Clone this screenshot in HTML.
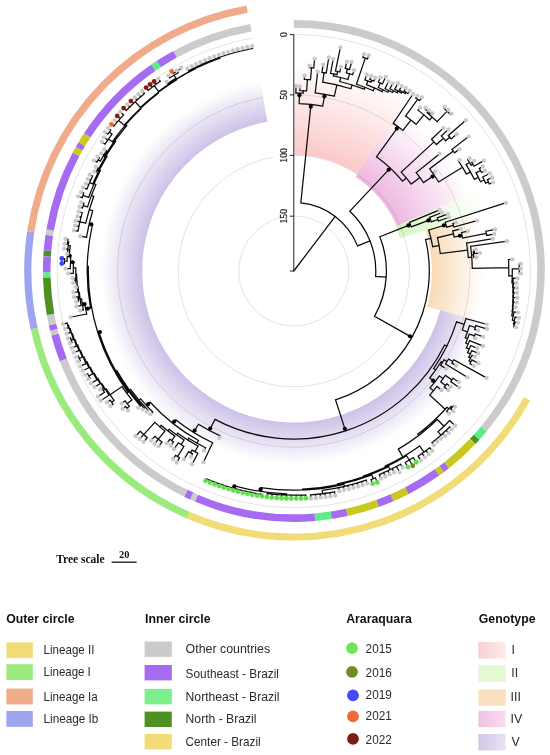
<!DOCTYPE html>
<html lang="en"><head><meta charset="utf-8"><title>Tree</title><style>
html,body{margin:0;padding:0;background:#fff}
svg{display:block}
.ax{font-family:"Liberation Serif",serif;font-size:11.4px;fill:#111;stroke:#111;stroke-width:0.25px}
.ts{font-family:"Liberation Serif",serif;font-weight:bold;font-size:11.5px;fill:#111}
.ts2{font-family:"Liberation Serif",serif;font-weight:bold;font-size:10.4px;fill:#111}
.hd{font-family:"Liberation Sans",sans-serif;font-weight:bold;font-size:12.3px;fill:#111}
.lb{font-family:"Liberation Sans",sans-serif;font-size:12.4px;fill:#2a2a2a}
</style></head>
<body>
<svg width="550" height="755" viewBox="0 0 550 755">
<defs><radialGradient id="gI" gradientUnits="userSpaceOnUse" cx="293.8" cy="271" r="208"><stop offset="0.5577" stop-color="#fbc9c9" stop-opacity="1"/><stop offset="1" stop-color="#fbc9c9" stop-opacity="0"/></radialGradient><radialGradient id="gIV" gradientUnits="userSpaceOnUse" cx="293.8" cy="271" r="192"><stop offset="0.5859" stop-color="#eeb6df" stop-opacity="1"/><stop offset="1" stop-color="#eeb6df" stop-opacity="0"/></radialGradient><radialGradient id="gII" gradientUnits="userSpaceOnUse" cx="293.8" cy="271" r="200"><stop offset="0.5550" stop-color="#d8f5c4" stop-opacity="1"/><stop offset="1" stop-color="#d8f5c4" stop-opacity="0"/></radialGradient><radialGradient id="gIII" gradientUnits="userSpaceOnUse" cx="293.8" cy="271" r="190"><stop offset="0.7263" stop-color="#f7dab6" stop-opacity="1"/><stop offset="1" stop-color="#f7dab6" stop-opacity="0"/></radialGradient><radialGradient id="gV" gradientUnits="userSpaceOnUse" cx="293.8" cy="271" r="193"><stop offset="0.7855" stop-color="#cdc1e7" stop-opacity="1"/><stop offset="1" stop-color="#cdc1e7" stop-opacity="0"/></radialGradient><linearGradient id="lI"><stop offset="0" stop-color="#f9cfcf"/><stop offset="1" stop-color="#fdecec"/></linearGradient><linearGradient id="lIV"><stop offset="0" stop-color="#f3c0e2"/><stop offset="1" stop-color="#f9dcef"/></linearGradient><linearGradient id="lV"><stop offset="0" stop-color="#d2c6e8"/><stop offset="1" stop-color="#e9e2f4"/></linearGradient></defs>
<rect width="550" height="755" fill="#fff"/>
<path d="M294.89 63A208 208 0 0 1 408.91 97.75L357.99 174.38A116 116 0 0 0 294.41 155Z" fill="url(#gI)"/>
<path d="M399.49 110.71A192 192 0 0 1 469.74 194.13L396.89 225.96A112.5 112.5 0 0 0 355.73 177.08Z" fill="url(#gIV)"/>
<path d="M477.07 190.93A200 200 0 0 1 484.86 211.86L399.84 238.18A111 111 0 0 0 395.52 226.56Z" fill="url(#gII)"/>
<path d="M475.3 214.82A190 190 0 0 1 477.33 320.18L427.1 306.72A138 138 0 0 0 425.63 230.19Z" fill="url(#gIII)"/>
<path d="M480.22 320.95A193 193 0 1 1 260.29 80.93L267.47 121.7A151.6 151.6 0 1 0 440.23 310.24Z" fill="url(#gV)"/>
<path d="M293.8 216A55 55 0 1 1 284.25 216.84" fill="none" stroke="#000" stroke-opacity="0.11" stroke-width="1"/>
<path d="M293.8 155.4A115.6 115.6 0 1 1 273.73 157.16" fill="none" stroke="#000" stroke-opacity="0.11" stroke-width="1"/>
<path d="M293.8 94.8A176.2 176.2 0 1 1 263.2 97.48" fill="none" stroke="#000" stroke-opacity="0.11" stroke-width="1"/>
<path d="M293.8 34.4A236.6 236.6 0 1 1 252.71 37.99" fill="none" stroke="#000" stroke-opacity="0.11" stroke-width="1"/>
<path d="M293.8 23.9A247.1 247.1 0 0 1 483.92 428.84" fill="none" stroke="#cbcbcb" stroke-width="7.6"/>
<path d="M483.92 428.84A247.1 247.1 0 0 1 476.56 437.3" fill="none" stroke="#5bee86" stroke-width="7.6"/>
<path d="M476.56 437.3A247.1 247.1 0 0 1 472.74 441.4" fill="none" stroke="#4f9120" stroke-width="7.6"/>
<path d="M472.74 441.4A247.1 247.1 0 0 1 446.61 465.19" fill="none" stroke="#c9c81f" stroke-width="7.6"/>
<path d="M446.61 465.19A247.1 247.1 0 0 1 441.47 469.12" fill="none" stroke="#a56bf0" stroke-width="7.6"/>
<path d="M441.47 469.12A247.1 247.1 0 0 1 436.94 472.42" fill="none" stroke="#c9c81f" stroke-width="7.6"/>
<path d="M436.94 472.42A247.1 247.1 0 0 1 406.75 490.77" fill="none" stroke="#a56bf0" stroke-width="7.6"/>
<path d="M406.75 490.77A247.1 247.1 0 0 1 391.94 497.78" fill="none" stroke="#c9c81f" stroke-width="7.6"/>
<path d="M391.94 497.78A247.1 247.1 0 0 1 377.5 503.49" fill="none" stroke="#a56bf0" stroke-width="7.6"/>
<path d="M377.5 503.49A247.1 247.1 0 0 1 346.86 512.34" fill="none" stroke="#c9c81f" stroke-width="7.6"/>
<path d="M346.86 512.34A247.1 247.1 0 0 1 331.18 515.26" fill="none" stroke="#a56bf0" stroke-width="7.6"/>
<path d="M331.18 515.26A247.1 247.1 0 0 1 314.91 517.2" fill="none" stroke="#5bee86" stroke-width="7.6"/>
<path d="M314.91 517.2A247.1 247.1 0 0 1 196.46 498.12" fill="none" stroke="#a56bf0" stroke-width="7.6"/>
<path d="M196.46 498.12A247.1 247.1 0 0 1 191.72 496.03" fill="none" stroke="#cbcbcb" stroke-width="7.6"/>
<path d="M191.72 496.03A247.1 247.1 0 0 1 185.87 493.28" fill="none" stroke="#a56bf0" stroke-width="7.6"/>
<path d="M185.87 493.28A247.1 247.1 0 0 1 63.27 359.96" fill="none" stroke="#cbcbcb" stroke-width="7.6"/>
<path d="M63.27 359.96A247.1 247.1 0 0 1 55.01 334.54" fill="none" stroke="#a56bf0" stroke-width="7.6"/>
<path d="M55.01 334.54A247.1 247.1 0 0 1 53.83 329.94" fill="none" stroke="#cbcbcb" stroke-width="7.6"/>
<path d="M53.83 329.94A247.1 247.1 0 0 1 52.56 324.48" fill="none" stroke="#a56bf0" stroke-width="7.6"/>
<path d="M52.56 324.48A247.1 247.1 0 0 1 50.53 314.33" fill="none" stroke="#cbcbcb" stroke-width="7.6"/>
<path d="M50.53 314.33A247.1 247.1 0 0 1 46.78 277.47" fill="none" stroke="#4f9120" stroke-width="7.6"/>
<path d="M46.78 277.47A247.1 247.1 0 0 1 46.7 272.29" fill="none" stroke="#5bee86" stroke-width="7.6"/>
<path d="M46.7 272.29A247.1 247.1 0 0 1 47.13 256.35" fill="none" stroke="#a56bf0" stroke-width="7.6"/>
<path d="M47.13 256.35A247.1 247.1 0 0 1 47.53 250.75" fill="none" stroke="#4f9120" stroke-width="7.6"/>
<path d="M47.53 250.75A247.1 247.1 0 0 1 49.29 235.33" fill="none" stroke="#a56bf0" stroke-width="7.6"/>
<path d="M49.29 235.33A247.1 247.1 0 0 1 50.16 229.79" fill="none" stroke="#cbcbcb" stroke-width="7.6"/>
<path d="M50.16 229.79A247.1 247.1 0 0 1 76.03 154.23" fill="none" stroke="#a56bf0" stroke-width="7.6"/>
<path d="M76.03 154.23A247.1 247.1 0 0 1 79.16 148.57" fill="none" stroke="#c9c81f" stroke-width="7.6"/>
<path d="M79.16 148.57A247.1 247.1 0 0 1 81.77 144.1" fill="none" stroke="#a56bf0" stroke-width="7.6"/>
<path d="M81.77 144.1A247.1 247.1 0 0 1 87.27 135.34" fill="none" stroke="#c9c81f" stroke-width="7.6"/>
<path d="M87.27 135.34A247.1 247.1 0 0 1 153.49 67.6" fill="none" stroke="#a56bf0" stroke-width="7.6"/>
<path d="M153.49 67.6A247.1 247.1 0 0 1 158.86 64" fill="none" stroke="#5bee86" stroke-width="7.6"/>
<path d="M158.86 64A247.1 247.1 0 0 1 175.14 54.26" fill="none" stroke="#a56bf0" stroke-width="7.6"/>
<path d="M175.14 54.26A247.1 247.1 0 0 1 250.89 27.65" fill="none" stroke="#cbcbcb" stroke-width="7.6"/>
<path d="M527.12 398.74A266 266 0 0 1 188.16 515.12" fill="none" stroke="#f2dc78" stroke-width="7.2"/>
<path d="M188.16 515.12A266 266 0 0 1 34.11 328.57" fill="none" stroke="#9aeb7c" stroke-width="7.2"/>
<path d="M34.11 328.57A266 266 0 0 1 30.72 231.68" fill="none" stroke="#9ea4f0" stroke-width="7.2"/>
<path d="M30.72 231.68A266 266 0 0 1 247.15 9.12" fill="none" stroke="#f0ab8a" stroke-width="7.2"/>
<path d="M295.91 93.01L295.98 87.01M299.83 90.5L299.92 87.6M304.33 79.29L304.47 76.89M309.37 67.6L309.43 66.8M313.74 67.98L314.55 59.82M309.37 67.6A204 204 0 0 1 313.74 67.98M310.51 79.73L311.56 67.77M304.33 79.29A192 192 0 0 1 310.51 79.73M306.62 90.86L307.43 79.48M299.83 90.5A180.6 180.6 0 0 1 306.62 90.86M303.09 93.24L303.22 90.65M295.91 93.01A178 178 0 0 1 303.09 93.24M299.16 103.69L299.5 93.09M315.19 92.78L317.59 72.72M321.97 72.49L322.89 65.95M326.23 73.14L328.62 58.53M321.97 72.49A200.5 200.5 0 0 1 326.23 73.14M322.66 82.19L324.1 72.8M330.57 73.39L333.02 60.22M335.49 71L340.16 48.58M339.78 71.94L340.7 67.95M335.49 71A204.3 204.3 0 0 1 339.78 71.94M336.93 74.68L337.63 71.46M330.57 73.39A201 201 0 0 1 336.93 74.68M333.36 75.97L333.75 74.01M345.2 68.42L346.53 63.19M349.55 69.57L351.36 63.02M345.2 68.42A209 209 0 0 1 349.55 69.57M346.36 72.85L347.38 68.98M352.72 74.65L353.7 71.39M346.36 72.85A205 205 0 0 1 352.72 74.65M347.91 79.5L349.55 73.72M333.36 75.97A199 199 0 0 1 347.91 79.5M339.73 81.49L340.67 77.6M362.94 57.41L363.58 55.41M367.51 58.95L368.37 56.49M362.94 57.41A224.5 224.5 0 0 1 367.51 58.95M356.48 84.24L365.23 58.17M364.91 79.8L366.38 75.86M369.75 79.51L370.71 77.09M373.85 81.19L374.86 78.79M369.75 79.51A206 206 0 0 1 373.85 81.19M371.04 82.19L371.8 80.34M364.91 79.8A204 204 0 0 1 371.04 82.19M366.53 84.69L367.99 80.97M378.32 82.04L379.91 78.48M382.37 83.9L385.23 77.85M378.32 82.04A207 207 0 0 1 382.37 83.9M378.26 87.5L380.35 82.96M385.03 88.54L388.03 82.54M389.87 88.77L392.2 84.35M394.73 89.13L397.4 84.32M399.38 90.05L401.09 87.11M404.03 91.08L405.23 89.12M407.87 93.5L409.12 91.56M404.03 91.08A211 211 0 0 1 407.87 93.5M405.16 93.55L405.96 92.28M399.38 90.05A209.5 209.5 0 0 1 405.16 93.55M401.51 93.06L402.28 91.78M394.73 89.13A208 208 0 0 1 401.51 93.06M397.14 92.79L398.14 91.06M389.87 88.77A206 206 0 0 1 397.14 92.79M392.55 92.5L393.52 90.75M385.03 88.54A204 204 0 0 1 392.55 92.5M387.88 92.25L388.81 90.48M378.26 87.5A202 202 0 0 1 387.88 92.25M382.22 91.61L383.1 89.81M366.53 84.69A200 200 0 0 1 382.22 91.61M373.24 90.73L374.45 87.98M356.48 84.24A197 197 0 0 1 373.24 90.73M364.21 89.16L364.93 87.29M339.73 81.49A195 195 0 0 1 364.21 89.16M350.9 88.73L352.09 84.92M322.66 82.19A191 191 0 0 1 350.9 88.73M334.31 96.13L336.91 84.93M315.19 92.78A179.5 179.5 0 0 1 334.31 96.13M322.7 106.11L324.79 94.2M299.16 103.69A167.4 167.4 0 0 1 322.7 106.11M300.83 202.86L310.98 104.48M393.23 123.36L412.34 94.99M415.75 98.08L416.61 96.85M419.44 100.74L421.22 98.32M415.75 98.08A211.6 211.6 0 0 1 419.44 100.74M405.55 116.1L417.6 99.4M417.94 110.13L419.1 108.63M424.7 108.71L424.89 108.48M428.16 111.57L428.36 111.34M431.56 114.49L431.69 114.34M424.7 108.71A208.5 208.5 0 0 1 431.56 114.49M427.2 112.71L428.16 111.57M443.69 107.92L443.96 107.63M447.17 111.18L447.51 110.82M450.57 114.52L450.71 114.38M443.69 107.92A221.5 221.5 0 0 1 450.57 114.52M437.13 121.65L447.17 111.18M427.2 112.71A207 207 0 0 1 437.13 121.65M429.69 119.93L432.23 117.1M417.94 110.13A203.2 203.2 0 0 1 429.69 119.93M416.1 124.29L423.91 114.92M405.55 116.1A191 191 0 0 1 416.1 124.29M402.93 130.37L410.9 120.1M393.23 123.36A178 178 0 0 1 402.93 130.37M376.45 156.76L398.14 126.79M431.56 139.28L442.48 128.85M441.3 135.93L447.49 130.26M448.3 135.51L464.92 120.93M451.18 138.86L455.78 135M448.3 135.51A205.5 205.5 0 0 1 451.18 138.86M445.58 140.76L449.75 137.18M441.3 135.93A200 200 0 0 1 445.58 140.76M436.42 144.56L443.46 138.33M431.56 139.28A190.6 190.6 0 0 1 436.42 144.56M401.21 172.11L434.02 141.9M416.18 172.66L438.79 154.49M451.96 149.41L467.66 137.34M454.54 152.84L458.41 150M451.96 149.41A199.5 199.5 0 0 1 454.54 152.84M429.68 168.84L453.26 151.12M432.91 173.28L434.22 172.36M458.23 160.7L458.48 160.53M467.72 159.68L468.65 159.09M471.79 162.4L473.15 161.57M474.08 166.26L482.9 161.13M471.79 162.4A208.5 208.5 0 0 1 474.08 166.26M471.23 165.35L472.94 164.33M467.72 159.68A206.5 206.5 0 0 1 471.23 165.35M466.09 164.6L469.5 162.5M479.36 168.47L481.72 167.16M481.52 172.48L483.91 171.23M479.36 168.47A212 212 0 0 1 481.52 172.48M476.05 172.84L480.45 170.47M482.7 176.99L488.7 174M487.39 179.8L491.19 178.01M489.31 183.98L491.78 182.88M487.39 179.8A214 214 0 0 1 489.31 183.98M485.63 183.13L488.36 181.88M482.7 176.99A211 211 0 0 1 485.63 183.13M480.58 181.77L484.19 180.05M476.05 172.84A207 207 0 0 1 480.58 181.77M474.36 179.32L478.37 177.28M466.09 164.6A202.5 202.5 0 0 1 474.36 179.32M466.45 174.08L470.38 171.87M458.23 160.7A198 198 0 0 1 466.45 174.08M438.62 181.97L462.48 167.31M429.68 168.84A170 170 0 0 1 438.62 181.97M423.56 182.62L434.31 175.3M416.18 172.66A157 157 0 0 1 423.56 182.62M411.13 184.11L419.97 177.57M401.21 172.11A146 146 0 0 1 411.13 184.11M402.48 181.16L406.33 177.98M376.45 156.76A141 141 0 0 1 402.48 181.16M349.88 211.18L390.24 168.14M409.53 222.45L438.39 210.34M429.61 217.42L440.87 212.98M437.3 217.93L446.68 214.46M438.41 221.03L447.96 217.73M437.3 217.93A153 153 0 0 1 438.41 221.03M431.27 221.83L437.86 219.48M429.61 217.42A146 146 0 0 1 431.27 221.83M411.27 226.84L430.46 219.62M409.53 222.45A125.5 125.5 0 0 1 411.27 226.84M379.85 236.79L410.42 224.63M445.16 222.31L504.76 203.15M452.88 223.58L454.99 222.95M453.87 227.01L476.04 220.92M452.88 223.58A166 166 0 0 1 453.87 227.01M446.65 227.22L453.38 225.3M445.16 222.31A159 159 0 0 1 446.65 227.22M428.71 230L445.93 224.76M452.74 230.98L459.82 229.2M461.46 232.6L466.82 231.37M485.85 231.34L493.88 229.68M486.66 235.48L492.95 234.32M485.85 231.34A196.1 196.1 0 0 1 486.66 235.48M462.61 238.03L486.26 233.41M461.46 232.6A172 172 0 0 1 462.61 238.03M454.13 236.99L462.06 235.31M452.74 230.98A163.9 163.9 0 0 1 454.13 236.99M437.49 237.68L453.46 233.98M466.55 243.01L491.52 238.97M470.58 246.25L505.83 241.31M474.05 249.71L474.84 249.61M474.46 253.59L478.74 253.18M474.05 249.71A181.5 181.5 0 0 1 474.46 253.59M473.27 251.75L474.27 251.65M473.8 257.55L475.19 257.45M473.27 251.75A180.5 180.5 0 0 1 473.8 257.55M471.57 254.83L473.56 254.65M508.5 259.6L511.19 259.46M519.19 263.89L519.79 263.87M519.29 268.74L519.79 268.73M519.29 273.59L519.79 273.6M519.19 263.89A225.5 225.5 0 0 1 519.29 273.59M512.29 268.81L519.29 268.74M513.18 278.24L516.38 278.35M513.47 282.99L515.37 283.09M513.66 287.75L515.76 287.91M513.75 292.52L515.74 292.72M513.73 297.31L516.21 297.6M513.61 302.1L515.49 302.37M513.38 306.9L514.47 307.08M514.04 311.89L516.79 312.4M515.06 317.03L517.8 317.6M515 322L516.75 322.41M513.85 326.75L514.91 327.02M515 322A227 227 0 0 1 513.85 326.75M513.46 324.14L514.43 324.38M515.06 317.03A226 226 0 0 1 513.46 324.14M512.34 320.15L514.29 320.59M514.04 311.89A224 224 0 0 1 512.34 320.15M511.76 315.73L513.23 316.03M513.38 306.9A222.5 222.5 0 0 1 511.76 315.73M512.12 311.23L512.62 311.33M513.61 302.1A222 222 0 0 1 512.12 311.23M512.42 306.6L512.91 306.68M513.73 297.31A221.5 221.5 0 0 1 512.42 306.6M512.63 301.89L513.13 301.96M513.75 292.52A221 221 0 0 1 512.63 301.89M512.74 297.15L513.24 297.21M513.66 287.75A220.5 220.5 0 0 1 512.74 297.15M512.76 292.41L513.25 292.46M513.47 282.99A220 220 0 0 1 512.76 292.41M512.67 287.66L513.17 287.7M513.18 278.24A219.5 219.5 0 0 1 512.67 287.66M511.98 282.9L512.97 282.96M512.29 268.81A218.5 218.5 0 0 1 511.98 282.9M508.75 275.78L512.25 275.86M508.5 259.6A215 215 0 0 1 508.75 275.78M472.28 268.25L508.77 267.69M470.58 246.25A178.5 178.5 0 0 1 472.28 268.25M468.28 257.49L471.77 257.22M466.55 243.01A175 175 0 0 1 468.28 257.49M440.26 253.5L467.56 250.24M437.49 237.68A147.5 147.5 0 0 1 440.26 253.5M432.69 246.68L439.09 245.55M428.71 230A141 141 0 0 1 432.69 246.68M425.6 239.55L430.95 238.28M465.85 318.55L485.51 323.98M475.8 325.54L485.86 328.55M474.59 329.44L476.97 330.21M475.8 325.54A190 190 0 0 1 474.59 329.44M469.48 325.71L475.21 327.5M475.18 333.97L481.98 336.34M473.78 337.86L474.06 337.97M475.18 333.97A192 192 0 0 1 473.78 337.86M469.31 334.06L474.49 335.92M469.51 340.61L482.06 345.59M470.74 345.54L476.18 347.83M471.83 350.55L477.13 352.92M471.89 355.22L473.97 356.2M471.83 359.93L477.46 362.74M469.87 363.73L472.79 365.27M471.83 359.93A199 199 0 0 1 469.87 363.73M469.08 360.92L470.86 361.84M471.89 355.22A197 197 0 0 1 469.08 360.92M468.71 357.2L470.51 358.08M471.83 350.55A195 195 0 0 1 468.71 357.2M467.59 352.62L470.31 353.89M470.74 345.54A192 192 0 0 1 467.59 352.62M466.46 347.87L469.2 349.09M469.51 340.61A189 189 0 0 1 466.46 347.87M465.72 343.29L468.02 344.26M469.31 334.06A186.5 186.5 0 0 1 465.72 343.29M465.25 337.79L467.58 338.7M469.48 325.71A184 184 0 0 1 465.25 337.79M462.28 329.97L467.47 331.79M465.85 318.55A178.5 178.5 0 0 1 462.28 329.97M456.52 321.9L464.16 324.29M453.84 359.74L485.59 377.34M451.9 363.16L455.18 365.08M453.84 359.74A183 183 0 0 1 451.9 363.16M448.53 358.99L452.88 361.46M445.61 363.93L466.42 376.67M448.53 358.99A178 178 0 0 1 445.61 363.93M444.08 359.69L447.09 361.47M440.63 365.29L445.09 368.15M444.08 359.69A174.5 174.5 0 0 1 440.63 365.29M441.11 361.72L442.38 362.51M453.09 378.19L457.9 381.43M450.75 381.59L458.27 386.89M453.09 378.19A192 192 0 0 1 450.75 381.59M445.34 375.36L451.93 379.9M446.72 383.76L449.7 385.95M444.26 387.02L447.35 389.4M446.72 383.76A190 190 0 0 1 444.26 387.02M440.71 381.78L445.5 385.4M445.34 375.36A184 184 0 0 1 440.71 381.78M439.41 375.97L443.06 378.6M437.06 386.47L440.72 389.42M453.67 405.62L454.2 406.08M450.73 409.03L452.39 410.48M453.67 405.62A209 209 0 0 1 450.73 409.03M451.07 406.36L452.21 407.34M446.62 411.36L448.17 412.78M451.07 406.36A207.5 207.5 0 0 1 446.62 411.36M447 407.22L448.87 408.88M449.7 420.5L454.32 424.93M449.63 427L450.97 428.35M446.24 430.32L448.04 432.2M442.78 433.56L444.2 435.11M439.25 436.73L440.17 437.78M435.65 439.82L436.48 440.81M431.98 442.83L433.11 444.23M449.63 427A220.5 220.5 0 0 1 431.98 442.83M438.02 431.8L441.02 435.15M449.7 420.5A216 216 0 0 1 438.02 431.8M437.36 419.43L443.97 426.26M429.78 447.74L431.49 449.96M425.95 450.63L428.02 453.45M422.05 453.43L424.12 456.37M418.1 456.15L420.38 459.55M429.78 447.74A223 223 0 0 1 418.1 456.15M419.63 445.95L424.01 452.04M413.28 457.51L415.65 461.22M409.24 460.04L412.1 464.73M405.15 462.48L407.21 466.02M413.28 457.51A221.5 221.5 0 0 1 405.15 462.48M406.63 455.77L409.24 460.04M400.66 464.22L402.02 466.67M396.48 466.47L398.99 471.25M392.25 468.64L393.59 471.32M387.98 470.71L389.17 473.24M383.66 472.69L384.88 475.43M379.3 474.57L380.54 477.52M400.66 464.22A220.8 220.8 0 0 1 379.3 474.57M388.64 466.62L390.12 469.68M375.53 477.95L376.89 481.39M371.06 479.66L372.17 482.66M375.53 477.95A222.5 222.5 0 0 1 371.06 479.66M371.8 474.89L373.3 478.81M366.16 480.14L366.94 482.4M361.64 481.64L362.35 483.83M357.1 483.06L357.72 485.16M352.52 484.37L353.13 486.59M347.92 485.58L348.48 487.81M343.29 486.7L343.8 488.94M338.64 487.71L339.1 489.96M334.54 491.77L335.05 494.53M329.79 492.6L330.22 495.26M325.01 493.32L325.37 495.89M320.22 493.94L320.52 496.42M315.42 494.46L315.66 496.94M310.61 494.87L310.8 497.36M334.54 491.77A224.5 224.5 0 0 1 310.61 494.87M322.21 490.47L322.62 493.64M366.16 480.14A221.3 221.3 0 0 1 322.21 490.47M343.97 484.38L344.45 486.43M305.77 494.88L305.89 497.08M300.95 495.09L301.02 497.28M296.13 495.19L296.15 497.39M291.31 495.19L291.28 497.39M286.49 495.08L286.42 497.28M281.67 494.87L281.55 497.07M276.86 494.56L276.69 496.75M272.05 494.14L271.84 496.33M267.26 493.62L267 495.81M305.77 494.88A224.2 224.2 0 0 1 267.26 493.62M286.53 493.88L286.49 495.08M262.28 494.39L262.17 495.18M257.48 493.66L257.35 494.45M252.7 492.82L252.55 493.61M247.94 491.89L247.77 492.67M243.2 490.85L243.02 491.63M238.48 489.71L238.28 490.49M233.79 488.47L233.57 489.24M229.12 487.13L228.89 487.9M224.49 485.69L224.24 486.45M219.89 484.15L219.62 484.9M215.32 482.51L215.04 483.26M210.79 480.77L210.49 481.52M206.29 478.94L205.98 479.67M262.28 494.39A225.6 225.6 0 0 1 206.29 478.94M234.48 485.96L233.79 488.47M286.53 493.88A223 223 0 0 1 234.48 485.96M260.84 487.71L260.27 491.46M343.97 484.38A219.2 219.2 0 0 1 260.84 487.71M302.53 489.13L302.56 490.02M371.8 474.89A218.3 218.3 0 0 1 302.53 489.13M337.56 483.95L337.74 484.83M388.64 466.62A217.4 217.4 0 0 1 337.56 483.95M363.35 476.02L363.64 476.88M406.63 455.77A216.5 216.5 0 0 1 363.35 476.02M385.13 466.19L385.55 467.1M419.63 445.95A215.5 215.5 0 0 1 385.13 466.19M398.29 449.11L402.85 456.87M437.36 419.43A206.5 206.5 0 0 1 398.29 449.11M417.81 434.24L418.71 435.44M447 407.22A205 205 0 0 1 417.81 434.24M429.68 395.07L445.18 409.23M437.06 386.47A184 184 0 0 1 429.68 395.07M430.02 387.9L433.43 390.83M439.41 375.97A179.5 179.5 0 0 1 430.02 387.9M429.73 378.01L434.84 382.03M441.11 361.72A173 173 0 0 1 429.73 378.01M433.6 368.6L435.65 370.03M456.52 321.9A170.5 170.5 0 0 1 433.6 368.6M444.61 345.03L446.86 346.13M220.22 435.82L219.86 436.65M212.64 442.79L203.92 461.24M205.61 447.72L204.67 449.6M197.87 453.3L192.7 463.12M192.52 453.82L191.5 455.66M188.61 451.6L184.63 458.43M192.52 453.82A209 209 0 0 1 188.61 451.6M192.04 450.11L190.56 452.72M197.87 453.3A206 206 0 0 1 192.04 450.11M198.06 446.03L194.94 451.73M179.53 457.83L177.29 461.49M175.54 455.32L173.76 458.1M179.53 457.83A219 219 0 0 1 175.54 455.32M183.9 446.42L177.53 456.59M178.3 442.78L174.67 448.17M183.9 446.42A207 207 0 0 1 178.3 442.78M184.08 440.01L181.08 444.62M173.48 441.89L171.46 444.75M169.83 439.26L167.52 442.4M173.48 441.89A209 209 0 0 1 169.83 439.26M174.86 436.12L171.65 440.59M161.97 442.1L159.46 445.35M158.32 439.23L155.37 442.89M154.73 436.27L151.96 439.56M161.97 442.1A216 216 0 0 1 154.73 436.27M164.9 431.05L158.32 439.23M147.25 437.75L144.34 441.06M143.69 434.56L140.45 438.1M140.21 431.29L136.4 435.26M147.25 437.75A222 222 0 0 1 140.21 431.29M154.85 422.4L143.69 434.56M164.9 431.05A205.5 205.5 0 0 1 154.85 422.4M161.11 425.29L159.81 426.81M174.86 436.12A203.5 203.5 0 0 1 161.11 425.29M169.11 429.28L167.87 430.86M184.08 440.01A201.5 201.5 0 0 1 169.11 429.28M177.64 433.19L176.47 434.82M198.06 446.03A199.5 199.5 0 0 1 177.64 433.19M188.72 438.23L187.65 439.92M205.61 447.72A197.5 197.5 0 0 1 188.72 438.23M198.52 440.56L197.05 443.18M152.71 412.04L151.29 413.46M148.19 410.43L147.69 410.91M144.19 408.21L143.6 408.75M140.37 405.75L139.17 406.81M128.48 410.02L128.79 409.76M125.53 406.43L123.5 408.06M128.48 410.02A216 216 0 0 1 125.53 406.43M129.31 406.32L126.99 408.23M125.03 400.95L122.57 402.84M129.31 406.32A213 213 0 0 1 125.03 400.95M131.84 399.92L127.15 403.65M113.01 404.1L111.4 405.29M110.19 400.18L107.98 401.74M113.01 404.1A224.5 224.5 0 0 1 110.19 400.18M114.03 400.4L111.59 402.15M109.12 395.09L101.73 400.05M104.55 392.33L99 395.89M101.99 388.23L101.13 388.75M104.55 392.33A224.8 224.8 0 0 1 101.99 388.23M104.5 389.51L103.26 390.29M100.06 383.76L95.62 386.34M96.95 379.97L91.87 382.78M89.96 378.18L89.07 378.64M87.7 373.77L86.36 374.44M89.96 378.18A230.3 230.3 0 0 1 87.7 373.77M92.79 373.94L88.82 375.98M88.82 367.76L83.64 370.21M86.03 363.67L81.55 365.66M80.3 360.76L79.38 361.15M78.42 356.15L77.31 356.59M80.3 360.76A231.6 231.6 0 0 1 78.42 356.15M82.37 357.23L79.35 358.46M78.92 350.65L75.23 352.02M76.47 346.28L73.07 347.46M71.95 342.54L71 342.85M70.46 337.75L69.12 338.16M71.95 342.54A233.1 233.1 0 0 1 70.46 337.75M73.36 339.48L71.19 340.15M70.46 332.55L67.73 333.31M68.38 327.94L66.34 328.45M67.21 323.08L64.09 323.79M68.38 327.94A232.5 232.5 0 0 1 67.21 323.08M68.59 325.32L67.78 325.51M70.46 332.55A231.67 231.67 0 0 1 68.59 325.32M70.3 328.73L69.5 328.94M73.36 339.48A230.83 230.83 0 0 1 70.3 328.73M72.57 333.9L71.77 334.13M76.47 346.28A230 230 0 0 1 72.57 333.9M75.23 339.87L74.43 340.12M78.92 350.65A229.17 229.17 0 0 1 75.23 339.87M77.79 345.01L77.01 345.28M82.37 357.23A228.33 228.33 0 0 1 77.79 345.01M80.78 350.86L80 351.15M86.03 363.67A227.5 227.5 0 0 1 80.78 350.86M84.08 356.99L83.31 357.3M88.82 367.76A226.67 226.67 0 0 1 84.08 356.99M87.14 362.07L86.38 362.4M92.79 373.94A225.83 225.83 0 0 1 87.14 362.07M90.63 367.69L89.88 368.05M96.95 379.97A225 225 0 0 1 90.63 367.69M94.44 373.5L93.7 373.88M100.06 383.76A224.17 224.17 0 0 1 94.44 373.5M97.91 378.26L97.18 378.66M104.5 389.51A223.33 223.33 0 0 1 97.91 378.26M101.84 383.51L101.13 383.93M109.12 395.09A222.5 222.5 0 0 1 101.84 383.51M106.24 388.83L105.39 389.36M114.03 400.4A221.5 221.5 0 0 1 106.24 388.83M122.07 386.58L110.04 394.67M131.84 399.92A207 207 0 0 1 122.07 386.58M128.03 392.46L126.82 393.34M86.7 313.93L71.92 316.99M83.37 309.92L81.3 310.3M81.1 305.62L77.55 306.2M78.42 301.32L77.43 301.46M77.82 296.68L75.24 296.99M78.42 301.32A217.5 217.5 0 0 1 77.82 296.68M79.3 298.85L78.11 299M77.82 291.98L74.63 292.29M77.22 287.34L77.12 287.35M75.12 282.78L74.42 282.82M74.91 278.07L73.91 278.1M75.12 282.78A219 219 0 0 1 74.91 278.07M76 280.38L75 280.42M73.31 273.38L69.41 273.42M70.31 268.6L66.71 268.56M64.42 263.6L63.02 263.56M64.63 258.67L63.03 258.58M64.42 263.6A229.5 229.5 0 0 1 64.63 258.67M67.01 261.24L64.51 261.13M69.44 254.08L68.54 254.01M67.86 249.06L65.47 248.83M67.39 244.09L65.8 243.9M68.02 239.23L66.74 239.05M67.39 244.09A228 228 0 0 1 68.02 239.23M68.69 241.79L67.7 241.66M67.86 249.06A227 227 0 0 1 68.69 241.79M70.23 245.65L68.25 245.42M69.44 254.08A225 225 0 0 1 70.23 245.65M67.8 249.67L69.8 249.86M67.01 261.24A227 227 0 0 1 67.8 249.67M70.82 255.69L67.33 255.45M70.31 268.6A223.5 223.5 0 0 1 70.82 255.69M73.47 262.26L70.48 262.14M73.31 273.38A220.5 220.5 0 0 1 73.47 262.26M75.82 267.85L73.32 267.82M76 280.38A218 218 0 0 1 75.82 267.85M76.62 274.11L75.82 274.12M77.22 287.34A217.2 217.2 0 0 1 76.62 274.11M77.02 280.72L76.82 280.73M77.82 291.98A217 217 0 0 1 77.02 280.72M78.04 286.31L77.34 286.36M79.3 298.85A216.3 216.3 0 0 1 78.04 286.31M79.38 292.51L78.58 292.59M81.1 305.62A215.5 215.5 0 0 1 79.38 292.51M81.62 298.88L80.14 299.08M83.37 309.92A214 214 0 0 1 81.62 298.88M84.89 304.02L82.42 304.41M86.7 313.93A211.5 211.5 0 0 1 84.89 304.02M90.56 308.11L85.74 308.99M86.53 237.27L81.39 236.43M77.96 231.09L75.01 230.55M78.87 226.46L76.22 225.91M79.87 221.84L76.85 221.15M80.98 217.25L78.75 216.69M82.19 212.69L79.68 212M77.96 231.09A219.5 219.5 0 0 1 82.19 212.69M85.72 223.19L79.87 221.84M82.53 207.86L80.71 207.32M83.94 203.33L82.32 202.81M82.53 207.86A220.5 220.5 0 0 1 83.94 203.33M87.52 206.93L83.22 205.6M82.14 197.69L79.21 196.68M83.76 193.15L82.07 192.53M82.14 197.69A224 224 0 0 1 83.76 193.15M88.58 197.44L82.94 195.42M86.88 189.21L84.18 188.14M88.69 184.77L87.03 184.08M90.59 180.38L88.85 179.61M92.59 176.03L90.78 175.18M86.88 189.21A222.5 222.5 0 0 1 92.59 176.03M92.65 183.88L89.63 182.57M96.02 172.39L95.3 172.04M98.18 168.16L96.95 167.51M96.02 172.39A221 221 0 0 1 98.18 168.16M97.71 170.59L97.09 170.27M96.94 162.04L94.84 160.88M99.33 157.83L98.47 157.33M96.94 162.04A225 225 0 0 1 99.33 157.83M100.3 161.16L98.13 159.93M103.94 154.98L102.24 153.94M106.48 150.92L105.31 150.17M100.3 161.16A222.5 222.5 0 0 1 106.48 150.92M104.18 156.52L103.32 156M104.96 144.13L102.8 142.68M107.73 140.1L104.79 138.03M107.77 134.05L106 132.75M110.76 130.08L109.34 128.98M107.77 134.05A231 231 0 0 1 110.76 130.08M112.05 134.16L109.26 132.06M104.96 144.13A227.5 227.5 0 0 1 112.05 134.16M112.27 141.82L108.44 139.1M113.84 126.18L112.43 125.05M116.99 122.34L115.54 121.12M120.23 118.57L118.13 116.72M123.55 114.87L120.97 112.51M113.84 126.18A231 231 0 0 1 123.55 114.87M124.21 125.27L118.6 120.45M126.23 110.55L124.49 108.89M129.72 106.99L128.09 105.36M133.28 103.49L131.76 101.91M136.92 100.08L135.43 98.46M140.64 96.75L139.18 95.09M144.42 93.49L143 91.81M126.23 110.55A232 232 0 0 1 144.42 93.49M140.36 107.39L135.09 101.78M148.27 90.32L146.83 88.53M152.19 87.23L150.79 85.41M156.18 84.23L154.87 82.46M160.23 81.31L158.96 79.51M148.27 90.32A232 232 0 0 1 160.23 81.31M158.51 91.47L154.18 85.72M167.69 83.46L167.24 82.8M169.86 77.84L169.05 76.58M173 73.52L172.32 72.41M177.28 70.96L177.53 71.4M181.61 68.5L181.75 68.77M173 73.52A231.5 231.5 0 0 1 181.61 68.5M178.28 72.69L177.28 70.96M169.86 77.84A229.5 229.5 0 0 1 178.28 72.69M175.87 78.21L174.04 75.22M167.69 83.46A226 226 0 0 1 175.87 78.21M172.18 81.46L171.75 80.79M188.41 70.74L187.8 69.59M192.74 68.52L192.16 67.35M197.12 66.39L196.57 65.22M201.54 64.36L201.01 63.17M206.01 62.42L205.51 61.22M210.52 60.58L210.04 59.37M215.06 58.84L214.61 57.62M219.65 57.19L219.22 55.97M224.26 55.65L223.86 54.41M228.91 54.2L228.54 52.96M233.59 52.86L233.24 51.6M238.3 51.61L237.98 50.35M243.03 50.47L242.74 49.2M247.78 49.43L247.52 48.16M252.56 48.49L252.32 47.21M188.41 70.74A226.3 226.3 0 0 1 252.56 48.49M220.01 58.23L219.65 57.19M172.18 81.46A225.2 225.2 0 0 1 220.01 58.23M195.58 68.79L195.41 68.43M158.51 91.47A224.8 224.8 0 0 1 195.58 68.79M176.76 79.66L176.5 79.23M140.36 107.39A224.3 224.3 0 0 1 176.76 79.66M158.27 93.15L157.85 92.6M124.21 125.27A223.6 223.6 0 0 1 158.27 93.15M140.95 108.9L140.4 108.32M112.27 141.82A222.8 222.8 0 0 1 140.95 108.9M126.78 125.51L125.8 124.66M104.18 156.52A221.5 221.5 0 0 1 126.78 125.51M115.78 141.23L114.81 140.52M97.71 170.59A220.3 220.3 0 0 1 115.78 141.23M107.11 156.13L106.17 155.56M92.65 183.88A219.2 219.2 0 0 1 107.11 156.13M100.45 170.3L99.39 169.75M88.58 197.44A218 218 0 0 1 100.45 170.3M95.89 184.47L94.06 183.67M87.52 206.93A216 216 0 0 1 95.89 184.47M93.74 196.46L91.39 195.59M85.72 223.19A213.5 213.5 0 0 1 93.74 196.46M92.64 210.7L89.29 209.69M86.53 237.27A210 210 0 0 1 92.64 210.7M92.47 224.65L89.15 223.88M90.56 308.11A206.6 206.6 0 0 1 92.47 224.65M88.35 266.3L87.25 266.28M128.03 392.46A205.5 205.5 0 0 1 88.35 266.3M99.01 332.27L97.77 332.66M140.37 405.75A204.2 204.2 0 0 1 99.01 332.27M116.9 370.58L115.86 371.17M144.19 408.21A203 203 0 0 1 116.9 370.58M130.6 389.36L129.47 390.18M148.19 410.43A201.6 201.6 0 0 1 130.6 389.36M140.65 398.85L139.04 400.19M152.71 412.04A199.5 199.5 0 0 1 140.65 398.85M150.22 402.21L146.53 405.58M198.52 440.56A194.5 194.5 0 0 1 150.22 402.21M175.64 419.79L172.84 423.31M212.64 442.79A190 190 0 0 1 175.64 419.79M198.49 424.29L193.48 432.35M220.22 435.82A180.5 180.5 0 0 1 198.49 424.29M215.02 419.39L209.16 430.43M444.61 345.03A168 168 0 0 1 215.02 419.39M335.55 399.91L345.56 430.83M425.6 239.55A135.5 135.5 0 0 1 335.55 399.91M374.54 316.34L411.95 337.35M379.85 236.79A92.6 92.6 0 0 1 374.54 316.34M375.62 276.46L386.19 277.17M349.88 211.18A82 82 0 0 1 375.62 276.46M357.53 245.88L370.09 240.93M300.83 202.86A68.5 68.5 0 0 1 357.53 245.88M293.8 271L335.2 216.43" fill="none" stroke="#0a0a0a" stroke-width="1.25" stroke-linecap="square"/>
<circle cx="299.43" cy="95.29" r="2.1" fill="#000"/>
<circle cx="324.41" cy="96.36" r="2.1" fill="#000"/>
<circle cx="310.75" cy="106.67" r="2.1" fill="#000"/>
<circle cx="396.85" cy="128.57" r="2.1" fill="#000"/>
<circle cx="432.49" cy="176.54" r="2.1" fill="#000"/>
<circle cx="388.73" cy="169.74" r="2.1" fill="#000"/>
<circle cx="428.4" cy="220.4" r="2.1" fill="#000"/>
<circle cx="408.38" cy="225.45" r="2.1" fill="#000"/>
<circle cx="443.82" cy="225.4" r="2.1" fill="#000"/>
<circle cx="459.9" cy="235.77" r="2.1" fill="#000"/>
<circle cx="234.37" cy="486.35" r="2.1" fill="#000"/>
<circle cx="260.6" cy="489.29" r="2.1" fill="#000"/>
<circle cx="433.11" cy="380.67" r="2.1" fill="#000"/>
<circle cx="69.53" cy="255.6" r="2.1" fill="#000"/>
<circle cx="72.67" cy="262.23" r="2.1" fill="#000"/>
<circle cx="84.6" cy="304.07" r="2.1" fill="#000"/>
<circle cx="87.9" cy="308.59" r="2.1" fill="#000"/>
<circle cx="91.3" cy="224.38" r="2.1" fill="#000"/>
<circle cx="99.87" cy="332" r="2.1" fill="#000"/>
<circle cx="148.16" cy="404.1" r="2.1" fill="#000"/>
<circle cx="174.21" cy="421.59" r="2.1" fill="#000"/>
<circle cx="194.64" cy="430.49" r="2.1" fill="#000"/>
<circle cx="210.19" cy="428.48" r="2.1" fill="#000"/>
<circle cx="344.89" cy="428.73" r="2.1" fill="#000"/>
<circle cx="410.03" cy="336.27" r="2.1" fill="#000"/>
<circle cx="296" cy="85.81" r="2.15" fill="#c9c9c9"/>
<circle cx="299.96" cy="86.4" r="2.15" fill="#c9c9c9"/>
<circle cx="304.53" cy="75.69" r="2.15" fill="#c9c9c9"/>
<circle cx="309.52" cy="65.6" r="2.15" fill="#c9c9c9"/>
<circle cx="314.66" cy="58.62" r="2.15" fill="#c9c9c9"/>
<circle cx="317.74" cy="71.53" r="2.15" fill="#c9c9c9"/>
<circle cx="323.06" cy="64.77" r="2.15" fill="#c9c9c9"/>
<circle cx="328.82" cy="57.35" r="2.15" fill="#c9c9c9"/>
<circle cx="333.24" cy="59.04" r="2.15" fill="#c9c9c9"/>
<circle cx="340.4" cy="47.4" r="2.15" fill="#c9c9c9"/>
<circle cx="340.97" cy="66.78" r="2.15" fill="#c9c9c9"/>
<circle cx="346.83" cy="62.02" r="2.15" fill="#c9c9c9"/>
<circle cx="351.68" cy="61.86" r="2.15" fill="#c9c9c9"/>
<circle cx="354.04" cy="70.24" r="2.15" fill="#c9c9c9"/>
<circle cx="363.95" cy="54.27" r="2.15" fill="#c9c9c9"/>
<circle cx="368.76" cy="55.36" r="2.15" fill="#c9c9c9"/>
<circle cx="366.8" cy="74.73" r="2.15" fill="#c9c9c9"/>
<circle cx="371.15" cy="75.98" r="2.15" fill="#c9c9c9"/>
<circle cx="375.32" cy="77.69" r="2.15" fill="#c9c9c9"/>
<circle cx="380.4" cy="77.39" r="2.15" fill="#c9c9c9"/>
<circle cx="385.75" cy="76.76" r="2.15" fill="#c9c9c9"/>
<circle cx="388.56" cy="81.47" r="2.15" fill="#c9c9c9"/>
<circle cx="392.76" cy="83.29" r="2.15" fill="#c9c9c9"/>
<circle cx="397.98" cy="83.27" r="2.15" fill="#c9c9c9"/>
<circle cx="401.7" cy="86.08" r="2.15" fill="#c9c9c9"/>
<circle cx="405.86" cy="88.1" r="2.15" fill="#c9c9c9"/>
<circle cx="409.77" cy="90.55" r="2.15" fill="#c9c9c9"/>
<circle cx="413.01" cy="94" r="2.15" fill="#c9c9c9"/>
<circle cx="417.31" cy="95.87" r="2.15" fill="#c9c9c9"/>
<circle cx="421.93" cy="97.36" r="2.15" fill="#c9c9c9"/>
<circle cx="419.84" cy="107.68" r="2.15" fill="#c9c9c9"/>
<circle cx="425.64" cy="107.55" r="2.15" fill="#c9c9c9"/>
<circle cx="429.13" cy="110.42" r="2.15" fill="#c9c9c9"/>
<circle cx="432.49" cy="113.44" r="2.15" fill="#c9c9c9"/>
<circle cx="444.78" cy="106.74" r="2.15" fill="#c9c9c9"/>
<circle cx="448.34" cy="109.96" r="2.15" fill="#c9c9c9"/>
<circle cx="451.56" cy="113.53" r="2.15" fill="#c9c9c9"/>
<circle cx="443.35" cy="128.02" r="2.15" fill="#c9c9c9"/>
<circle cx="448.38" cy="129.44" r="2.15" fill="#c9c9c9"/>
<circle cx="465.82" cy="120.14" r="2.15" fill="#c9c9c9"/>
<circle cx="456.7" cy="134.23" r="2.15" fill="#c9c9c9"/>
<circle cx="439.72" cy="153.74" r="2.15" fill="#c9c9c9"/>
<circle cx="468.61" cy="136.61" r="2.15" fill="#c9c9c9"/>
<circle cx="459.38" cy="149.29" r="2.15" fill="#c9c9c9"/>
<circle cx="435.2" cy="171.67" r="2.15" fill="#c9c9c9"/>
<circle cx="459.48" cy="159.86" r="2.15" fill="#c9c9c9"/>
<circle cx="469.66" cy="158.44" r="2.15" fill="#c9c9c9"/>
<circle cx="474.18" cy="160.95" r="2.15" fill="#c9c9c9"/>
<circle cx="483.94" cy="160.53" r="2.15" fill="#c9c9c9"/>
<circle cx="482.77" cy="166.58" r="2.15" fill="#c9c9c9"/>
<circle cx="484.97" cy="170.67" r="2.15" fill="#c9c9c9"/>
<circle cx="489.77" cy="173.47" r="2.15" fill="#c9c9c9"/>
<circle cx="492.28" cy="177.49" r="2.15" fill="#c9c9c9"/>
<circle cx="492.87" cy="182.4" r="2.15" fill="#c9c9c9"/>
<circle cx="439.5" cy="209.87" r="2.15" fill="#c9c9c9"/>
<circle cx="441.99" cy="212.54" r="2.15" fill="#c9c9c9"/>
<circle cx="447.81" cy="214.05" r="2.15" fill="#c9c9c9"/>
<circle cx="449.09" cy="217.34" r="2.15" fill="#c9c9c9"/>
<circle cx="505.9" cy="202.78" r="2.15" fill="#c9c9c9"/>
<circle cx="456.14" cy="222.61" r="2.15" fill="#c9c9c9"/>
<circle cx="477.2" cy="220.6" r="2.15" fill="#c9c9c9"/>
<circle cx="460.98" cy="228.91" r="2.15" fill="#c9c9c9"/>
<circle cx="467.99" cy="231.1" r="2.15" fill="#c9c9c9"/>
<circle cx="495.05" cy="229.44" r="2.15" fill="#c9c9c9"/>
<circle cx="494.13" cy="234.11" r="2.15" fill="#c9c9c9"/>
<circle cx="492.71" cy="238.78" r="2.15" fill="#c9c9c9"/>
<circle cx="507.02" cy="241.15" r="2.15" fill="#c9c9c9"/>
<circle cx="476.03" cy="249.47" r="2.15" fill="#c9c9c9"/>
<circle cx="479.94" cy="253.06" r="2.15" fill="#c9c9c9"/>
<circle cx="476.39" cy="257.36" r="2.15" fill="#c9c9c9"/>
<circle cx="512.39" cy="259.39" r="2.15" fill="#c9c9c9"/>
<circle cx="520.99" cy="263.83" r="2.15" fill="#c9c9c9"/>
<circle cx="520.99" cy="268.72" r="2.15" fill="#c9c9c9"/>
<circle cx="520.99" cy="273.61" r="2.15" fill="#c9c9c9"/>
<circle cx="517.58" cy="278.39" r="2.15" fill="#c9c9c9"/>
<circle cx="516.57" cy="283.16" r="2.15" fill="#c9c9c9"/>
<circle cx="516.95" cy="288" r="2.15" fill="#c9c9c9"/>
<circle cx="516.93" cy="292.83" r="2.15" fill="#c9c9c9"/>
<circle cx="517.41" cy="297.75" r="2.15" fill="#c9c9c9"/>
<circle cx="516.68" cy="302.54" r="2.15" fill="#c9c9c9"/>
<circle cx="515.65" cy="307.28" r="2.15" fill="#c9c9c9"/>
<circle cx="517.97" cy="312.62" r="2.15" fill="#c9c9c9"/>
<circle cx="518.98" cy="317.84" r="2.15" fill="#c9c9c9"/>
<circle cx="517.92" cy="322.68" r="2.15" fill="#c9c9c9"/>
<circle cx="516.08" cy="327.31" r="2.15" fill="#c9c9c9"/>
<circle cx="486.67" cy="324.3" r="2.15" fill="#c9c9c9"/>
<circle cx="487.01" cy="328.9" r="2.15" fill="#c9c9c9"/>
<circle cx="478.11" cy="330.58" r="2.15" fill="#c9c9c9"/>
<circle cx="483.11" cy="336.73" r="2.15" fill="#c9c9c9"/>
<circle cx="475.19" cy="338.38" r="2.15" fill="#c9c9c9"/>
<circle cx="483.18" cy="346.03" r="2.15" fill="#c9c9c9"/>
<circle cx="477.28" cy="348.3" r="2.15" fill="#c9c9c9"/>
<circle cx="478.23" cy="353.41" r="2.15" fill="#c9c9c9"/>
<circle cx="475.05" cy="356.72" r="2.15" fill="#c9c9c9"/>
<circle cx="478.54" cy="363.28" r="2.15" fill="#c9c9c9"/>
<circle cx="473.85" cy="365.83" r="2.15" fill="#c9c9c9"/>
<circle cx="486.64" cy="377.93" r="2.15" fill="#c9c9c9"/>
<circle cx="456.22" cy="365.68" r="2.15" fill="#c9c9c9"/>
<circle cx="467.45" cy="377.3" r="2.15" fill="#c9c9c9"/>
<circle cx="446.1" cy="368.8" r="2.15" fill="#c9c9c9"/>
<circle cx="458.9" cy="382.1" r="2.15" fill="#c9c9c9"/>
<circle cx="459.25" cy="387.58" r="2.15" fill="#c9c9c9"/>
<circle cx="450.67" cy="386.67" r="2.15" fill="#c9c9c9"/>
<circle cx="448.3" cy="390.14" r="2.15" fill="#c9c9c9"/>
<circle cx="441.65" cy="390.17" r="2.15" fill="#c9c9c9"/>
<circle cx="455.12" cy="406.85" r="2.15" fill="#c9c9c9"/>
<circle cx="453.29" cy="411.28" r="2.15" fill="#c9c9c9"/>
<circle cx="449.05" cy="413.59" r="2.15" fill="#c9c9c9"/>
<circle cx="455.19" cy="425.76" r="2.15" fill="#c9c9c9"/>
<circle cx="451.82" cy="429.2" r="2.15" fill="#c9c9c9"/>
<circle cx="448.87" cy="433.06" r="2.15" fill="#c9c9c9"/>
<circle cx="445.01" cy="435.99" r="2.15" fill="#c9c9c9"/>
<circle cx="440.96" cy="438.68" r="2.15" fill="#c9c9c9"/>
<circle cx="437.26" cy="441.73" r="2.15" fill="#c9c9c9"/>
<circle cx="433.86" cy="445.17" r="2.15" fill="#c9c9c9"/>
<circle cx="432.22" cy="450.91" r="2.15" fill="#c9c9c9"/>
<circle cx="428.73" cy="454.41" r="2.15" fill="#c9c9c9"/>
<circle cx="424.81" cy="457.36" r="2.15" fill="#c9c9c9"/>
<circle cx="421.05" cy="460.55" r="2.15" fill="#c9c9c9"/>
<circle cx="416.3" cy="462.23" r="2.4" fill="#5fe04a"/>
<circle cx="412.73" cy="465.76" r="2.4" fill="#6b8e23"/>
<circle cx="407.81" cy="467.06" r="2.4" fill="#5fe04a"/>
<circle cx="402.6" cy="467.72" r="2.15" fill="#c9c9c9"/>
<circle cx="399.55" cy="472.32" r="2.15" fill="#c9c9c9"/>
<circle cx="394.12" cy="472.4" r="2.15" fill="#c9c9c9"/>
<circle cx="389.68" cy="474.33" r="2.15" fill="#c9c9c9"/>
<circle cx="385.37" cy="476.52" r="2.15" fill="#c9c9c9"/>
<circle cx="381" cy="478.63" r="2.15" fill="#c9c9c9"/>
<circle cx="377.33" cy="482.5" r="2.4" fill="#5fe04a"/>
<circle cx="372.58" cy="483.78" r="2.4" fill="#5fe04a"/>
<circle cx="367.33" cy="483.54" r="2.15" fill="#c9c9c9"/>
<circle cx="362.71" cy="484.98" r="2.15" fill="#c9c9c9"/>
<circle cx="358.07" cy="486.31" r="2.15" fill="#c9c9c9"/>
<circle cx="353.45" cy="487.74" r="2.15" fill="#c9c9c9"/>
<circle cx="348.77" cy="488.98" r="2.15" fill="#c9c9c9"/>
<circle cx="344.07" cy="490.11" r="2.15" fill="#c9c9c9"/>
<circle cx="339.35" cy="491.14" r="2.15" fill="#c9c9c9"/>
<circle cx="335.27" cy="495.71" r="2.15" fill="#c9c9c9"/>
<circle cx="330.41" cy="496.45" r="2.15" fill="#c9c9c9"/>
<circle cx="325.54" cy="497.08" r="2.15" fill="#c9c9c9"/>
<circle cx="320.66" cy="497.61" r="2.15" fill="#c9c9c9"/>
<circle cx="315.78" cy="498.14" r="2.15" fill="#c9c9c9"/>
<circle cx="310.89" cy="498.56" r="2.15" fill="#c9c9c9"/>
<circle cx="305.95" cy="498.28" r="2.4" fill="#5fe04a"/>
<circle cx="301.06" cy="498.48" r="2.4" fill="#5fe04a"/>
<circle cx="296.17" cy="498.59" r="2.4" fill="#5fe04a"/>
<circle cx="291.27" cy="498.59" r="2.4" fill="#5fe04a"/>
<circle cx="286.38" cy="498.48" r="2.4" fill="#5fe04a"/>
<circle cx="281.48" cy="498.27" r="2.4" fill="#5fe04a"/>
<circle cx="276.6" cy="497.95" r="2.4" fill="#5fe04a"/>
<circle cx="271.72" cy="497.53" r="2.4" fill="#5fe04a"/>
<circle cx="266.85" cy="497" r="2.4" fill="#5fe04a"/>
<circle cx="262" cy="496.37" r="2.4" fill="#5fe04a"/>
<circle cx="257.16" cy="495.63" r="2.4" fill="#5fe04a"/>
<circle cx="252.33" cy="494.79" r="2.4" fill="#5fe04a"/>
<circle cx="247.53" cy="493.85" r="2.4" fill="#5fe04a"/>
<circle cx="242.75" cy="492.8" r="2.4" fill="#5fe04a"/>
<circle cx="237.99" cy="491.65" r="2.4" fill="#5fe04a"/>
<circle cx="233.25" cy="490.4" r="2.4" fill="#5fe04a"/>
<circle cx="228.55" cy="489.05" r="2.4" fill="#5fe04a"/>
<circle cx="223.87" cy="487.59" r="2.4" fill="#5fe04a"/>
<circle cx="219.23" cy="486.04" r="2.4" fill="#5fe04a"/>
<circle cx="214.62" cy="484.38" r="2.4" fill="#5fe04a"/>
<circle cx="210.05" cy="482.63" r="2.4" fill="#5fe04a"/>
<circle cx="205.52" cy="480.78" r="2.4" fill="#5fe04a"/>
<circle cx="219.37" cy="437.74" r="2.15" fill="#c9c9c9"/>
<circle cx="203.41" cy="462.32" r="2.15" fill="#c9c9c9"/>
<circle cx="204.14" cy="450.67" r="2.15" fill="#c9c9c9"/>
<circle cx="192.15" cy="464.19" r="2.15" fill="#c9c9c9"/>
<circle cx="190.92" cy="456.71" r="2.15" fill="#c9c9c9"/>
<circle cx="184.03" cy="459.46" r="2.15" fill="#c9c9c9"/>
<circle cx="176.66" cy="462.52" r="2.15" fill="#c9c9c9"/>
<circle cx="173.11" cy="459.11" r="2.15" fill="#c9c9c9"/>
<circle cx="174" cy="449.17" r="2.15" fill="#c9c9c9"/>
<circle cx="170.77" cy="445.73" r="2.15" fill="#c9c9c9"/>
<circle cx="166.8" cy="443.37" r="2.15" fill="#c9c9c9"/>
<circle cx="158.73" cy="446.3" r="2.15" fill="#c9c9c9"/>
<circle cx="154.62" cy="443.82" r="2.15" fill="#c9c9c9"/>
<circle cx="151.19" cy="440.48" r="2.15" fill="#c9c9c9"/>
<circle cx="143.55" cy="441.96" r="2.15" fill="#c9c9c9"/>
<circle cx="139.64" cy="438.98" r="2.15" fill="#c9c9c9"/>
<circle cx="135.57" cy="436.13" r="2.15" fill="#c9c9c9"/>
<circle cx="150.45" cy="414.31" r="2.15" fill="#c9c9c9"/>
<circle cx="146.82" cy="411.74" r="2.15" fill="#c9c9c9"/>
<circle cx="142.72" cy="409.56" r="2.15" fill="#c9c9c9"/>
<circle cx="138.27" cy="407.6" r="2.15" fill="#c9c9c9"/>
<circle cx="127.87" cy="410.53" r="2.15" fill="#c9c9c9"/>
<circle cx="122.57" cy="408.81" r="2.15" fill="#c9c9c9"/>
<circle cx="121.62" cy="403.57" r="2.15" fill="#c9c9c9"/>
<circle cx="110.44" cy="406" r="2.15" fill="#c9c9c9"/>
<circle cx="107" cy="402.43" r="2.15" fill="#c9c9c9"/>
<circle cx="100.73" cy="400.72" r="2.15" fill="#c9c9c9"/>
<circle cx="97.99" cy="396.54" r="2.15" fill="#c9c9c9"/>
<circle cx="100.11" cy="389.38" r="2.15" fill="#c9c9c9"/>
<circle cx="94.58" cy="386.94" r="2.15" fill="#c9c9c9"/>
<circle cx="90.82" cy="383.36" r="2.15" fill="#c9c9c9"/>
<circle cx="88.01" cy="379.2" r="2.15" fill="#c9c9c9"/>
<circle cx="85.28" cy="374.97" r="2.15" fill="#c9c9c9"/>
<circle cx="82.55" cy="370.72" r="2.15" fill="#c9c9c9"/>
<circle cx="80.46" cy="366.15" r="2.15" fill="#c9c9c9"/>
<circle cx="78.27" cy="361.62" r="2.15" fill="#c9c9c9"/>
<circle cx="76.19" cy="357.03" r="2.15" fill="#c9c9c9"/>
<circle cx="74.11" cy="352.44" r="2.15" fill="#c9c9c9"/>
<circle cx="71.93" cy="347.86" r="2.15" fill="#c9c9c9"/>
<circle cx="69.86" cy="343.22" r="2.15" fill="#c9c9c9"/>
<circle cx="67.97" cy="338.5" r="2.15" fill="#c9c9c9"/>
<circle cx="66.57" cy="333.63" r="2.15" fill="#c9c9c9"/>
<circle cx="65.18" cy="328.75" r="2.15" fill="#c9c9c9"/>
<circle cx="62.92" cy="324.06" r="2.15" fill="#c9c9c9"/>
<circle cx="70.74" cy="317.24" r="2.15" fill="#c9c9c9"/>
<circle cx="80.12" cy="310.52" r="2.15" fill="#c9c9c9"/>
<circle cx="76.36" cy="306.4" r="2.15" fill="#c9c9c9"/>
<circle cx="76.25" cy="301.63" r="2.15" fill="#c9c9c9"/>
<circle cx="74.05" cy="297.13" r="2.15" fill="#c9c9c9"/>
<circle cx="73.44" cy="292.4" r="2.15" fill="#c9c9c9"/>
<circle cx="75.92" cy="287.44" r="2.15" fill="#c9c9c9"/>
<circle cx="73.22" cy="282.88" r="2.15" fill="#c9c9c9"/>
<circle cx="72.72" cy="278.14" r="2.15" fill="#c9c9c9"/>
<circle cx="68.21" cy="273.43" r="2.15" fill="#c9c9c9"/>
<circle cx="65.51" cy="268.55" r="2.15" fill="#c9c9c9"/>
<circle cx="61.82" cy="263.52" r="2.4" fill="#3f3ff5"/>
<circle cx="61.84" cy="258.52" r="2.4" fill="#3f3ff5"/>
<circle cx="67.34" cy="253.92" r="2.15" fill="#c9c9c9"/>
<circle cx="64.28" cy="248.72" r="2.15" fill="#c9c9c9"/>
<circle cx="64.61" cy="243.76" r="2.15" fill="#c9c9c9"/>
<circle cx="65.55" cy="238.88" r="2.15" fill="#c9c9c9"/>
<circle cx="80.21" cy="236.24" r="2.15" fill="#c9c9c9"/>
<circle cx="73.83" cy="230.33" r="2.15" fill="#c9c9c9"/>
<circle cx="75.05" cy="225.67" r="2.15" fill="#c9c9c9"/>
<circle cx="75.68" cy="220.88" r="2.15" fill="#c9c9c9"/>
<circle cx="77.59" cy="216.4" r="2.15" fill="#c9c9c9"/>
<circle cx="78.52" cy="211.68" r="2.15" fill="#c9c9c9"/>
<circle cx="79.56" cy="206.98" r="2.15" fill="#c9c9c9"/>
<circle cx="81.18" cy="202.44" r="2.15" fill="#c9c9c9"/>
<circle cx="78.07" cy="196.28" r="2.15" fill="#c9c9c9"/>
<circle cx="80.95" cy="192.11" r="2.15" fill="#c9c9c9"/>
<circle cx="83.07" cy="187.7" r="2.15" fill="#c9c9c9"/>
<circle cx="85.92" cy="183.61" r="2.15" fill="#c9c9c9"/>
<circle cx="87.76" cy="179.12" r="2.15" fill="#c9c9c9"/>
<circle cx="89.69" cy="174.66" r="2.15" fill="#c9c9c9"/>
<circle cx="94.23" cy="171.5" r="2.15" fill="#c9c9c9"/>
<circle cx="95.88" cy="166.95" r="2.15" fill="#c9c9c9"/>
<circle cx="93.79" cy="160.3" r="2.15" fill="#c9c9c9"/>
<circle cx="97.43" cy="156.72" r="2.15" fill="#c9c9c9"/>
<circle cx="101.21" cy="153.31" r="2.15" fill="#c9c9c9"/>
<circle cx="104.3" cy="149.52" r="2.15" fill="#c9c9c9"/>
<circle cx="101.81" cy="142.01" r="2.15" fill="#c9c9c9"/>
<circle cx="103.81" cy="137.34" r="2.15" fill="#c9c9c9"/>
<circle cx="105.04" cy="132.04" r="2.15" fill="#c9c9c9"/>
<circle cx="108.39" cy="128.25" r="2.15" fill="#c9c9c9"/>
<circle cx="111.5" cy="124.3" r="2.4" fill="#f26a1e"/>
<circle cx="114.62" cy="120.34" r="2.15" fill="#c9c9c9"/>
<circle cx="117.23" cy="115.93" r="2.4" fill="#8a1a10"/>
<circle cx="120.09" cy="111.69" r="2.15" fill="#c9c9c9"/>
<circle cx="123.63" cy="108.06" r="2.4" fill="#8a1a10"/>
<circle cx="127.24" cy="104.51" r="2.15" fill="#c9c9c9"/>
<circle cx="130.93" cy="101.04" r="2.4" fill="#8a1a10"/>
<circle cx="134.62" cy="97.58" r="2.15" fill="#c9c9c9"/>
<circle cx="138.39" cy="94.19" r="2.15" fill="#c9c9c9"/>
<circle cx="142.23" cy="90.89" r="2.15" fill="#c9c9c9"/>
<circle cx="146.08" cy="87.59" r="2.4" fill="#8a1a10"/>
<circle cx="150.06" cy="84.46" r="2.4" fill="#8a1a10"/>
<circle cx="154.16" cy="81.49" r="2.4" fill="#8a1a10"/>
<circle cx="158.27" cy="78.53" r="2.15" fill="#c9c9c9"/>
<circle cx="166.57" cy="81.8" r="2.15" fill="#c9c9c9"/>
<circle cx="168.4" cy="75.57" r="2.15" fill="#c9c9c9"/>
<circle cx="171.7" cy="71.38" r="2.4" fill="#f26a1e"/>
<circle cx="176.92" cy="70.36" r="2.15" fill="#c9c9c9"/>
<circle cx="181.17" cy="67.72" r="2.15" fill="#c9c9c9"/>
<circle cx="187.25" cy="68.53" r="2.15" fill="#c9c9c9"/>
<circle cx="191.63" cy="66.28" r="2.15" fill="#c9c9c9"/>
<circle cx="196.05" cy="64.13" r="2.15" fill="#c9c9c9"/>
<circle cx="200.53" cy="62.08" r="2.15" fill="#c9c9c9"/>
<circle cx="205.04" cy="60.12" r="2.15" fill="#c9c9c9"/>
<circle cx="209.6" cy="58.26" r="2.15" fill="#c9c9c9"/>
<circle cx="214.19" cy="56.5" r="2.15" fill="#c9c9c9"/>
<circle cx="218.83" cy="54.83" r="2.15" fill="#c9c9c9"/>
<circle cx="223.49" cy="53.27" r="2.15" fill="#c9c9c9"/>
<circle cx="228.19" cy="51.81" r="2.15" fill="#c9c9c9"/>
<circle cx="232.92" cy="50.45" r="2.15" fill="#c9c9c9"/>
<circle cx="237.68" cy="49.19" r="2.15" fill="#c9c9c9"/>
<circle cx="242.47" cy="48.03" r="2.15" fill="#c9c9c9"/>
<circle cx="247.27" cy="46.98" r="2.15" fill="#c9c9c9"/>
<circle cx="252.1" cy="46.03" r="2.15" fill="#c9c9c9"/>
<path d="M293.8 34.6V271" stroke="#222" stroke-width="1" fill="none"/>
<path d="M293.8 34.6h-4" stroke="#222" stroke-width="1" fill="none"/>
<text transform="translate(286.7 34.6) rotate(-90)" text-anchor="middle" textLength="4.9" lengthAdjust="spacingAndGlyphs" class="ax">0</text>
<path d="M293.8 94.9h-4" stroke="#222" stroke-width="1" fill="none"/>
<text transform="translate(286.7 94.9) rotate(-90)" text-anchor="middle" textLength="9.8" lengthAdjust="spacingAndGlyphs" class="ax">50</text>
<path d="M293.8 155.4h-4" stroke="#222" stroke-width="1" fill="none"/>
<text transform="translate(286.7 155.4) rotate(-90)" text-anchor="middle" textLength="14.7" lengthAdjust="spacingAndGlyphs" class="ax">100</text>
<path d="M293.8 216.2h-4" stroke="#222" stroke-width="1" fill="none"/>
<text transform="translate(286.7 216.2) rotate(-90)" text-anchor="middle" textLength="14.7" lengthAdjust="spacingAndGlyphs" class="ax">150</text>
<path d="M293.8 271h-4" stroke="#222" stroke-width="1" fill="none"/>
<text x="56.2" y="562.6" class="ts">Tree scale</text>
<text x="124.2" y="558" text-anchor="middle" class="ts2">20</text>
<path d="M111.6 562.2h25" stroke="#111" stroke-width="1.3"/>
<text x="6.2" y="622.8" class="hd">Outer circle</text>
<rect x="6.4" y="642.3" width="26.4" height="15.8" fill="#f2dc78"/>
<text x="43.6" y="654.3" class="lb" textLength="50.8" lengthAdjust="spacingAndGlyphs">Lineage II</text>
<rect x="6.4" y="664.2" width="26.4" height="15.8" fill="#9aeb7c"/>
<text x="43.6" y="676" class="lb" textLength="47.2" lengthAdjust="spacingAndGlyphs">Lineage I</text>
<rect x="6.4" y="688.6" width="26.4" height="15.8" fill="#f0ab8a"/>
<text x="43.6" y="700.6" class="lb" textLength="54.2" lengthAdjust="spacingAndGlyphs">Lineage Ia</text>
<rect x="6.4" y="711" width="26.4" height="15.8" fill="#9ea4f0"/>
<text x="43.6" y="722.6" class="lb" textLength="54.7" lengthAdjust="spacingAndGlyphs">Lineage Ib</text>
<text x="145" y="622.8" class="hd">Inner circle</text>
<rect x="144.6" y="641.5" width="27.2" height="15.4" fill="#cbcbcb"/>
<text x="185.6" y="653.4" class="lb" textLength="84.6" lengthAdjust="spacingAndGlyphs">Other countries</text>
<rect x="144.6" y="665" width="27.2" height="15.4" fill="#a56bf0"/>
<text x="185.6" y="677.9" class="lb" textLength="93.3" lengthAdjust="spacingAndGlyphs">Southeast - Brazil</text>
<rect x="144.6" y="688.9" width="27.2" height="15.4" fill="#7bef8a"/>
<text x="185.6" y="701.4" class="lb" textLength="93.9" lengthAdjust="spacingAndGlyphs">Northeast - Brazil</text>
<rect x="144.6" y="711.6" width="27.2" height="15.4" fill="#4f9120"/>
<text x="185.6" y="723.2" class="lb" textLength="70.9" lengthAdjust="spacingAndGlyphs">North - Brazil</text>
<rect x="144.6" y="734" width="27.2" height="15.4" fill="#f2dc78"/>
<text x="185.6" y="746.2" class="lb" textLength="75" lengthAdjust="spacingAndGlyphs">Center - Brazil</text>
<text x="346.2" y="622.8" class="hd">Araraquara</text>
<circle cx="352" cy="648.2" r="5.9" fill="#6fe455"/>
<text x="365.6" y="652.9" class="lb" textLength="26.2" lengthAdjust="spacingAndGlyphs">2015</text>
<circle cx="352" cy="671.8" r="5.9" fill="#6b8e23"/>
<text x="365.6" y="676.5" class="lb" textLength="26.2" lengthAdjust="spacingAndGlyphs">2016</text>
<circle cx="353" cy="695.4" r="5.9" fill="#4848fa"/>
<text x="365.6" y="698.9" class="lb" textLength="26.2" lengthAdjust="spacingAndGlyphs">2019</text>
<circle cx="353" cy="716.4" r="5.9" fill="#f06a35"/>
<text x="365.6" y="720" class="lb" textLength="26.2" lengthAdjust="spacingAndGlyphs">2021</text>
<circle cx="353" cy="738.9" r="5.9" fill="#7e1c18"/>
<text x="365.6" y="743.7" class="lb" textLength="26.2" lengthAdjust="spacingAndGlyphs">2022</text>
<text x="478.8" y="622.8" class="hd">Genotype</text>
<rect x="478.4" y="642.1" width="27.2" height="16.4" fill="url(#lI)"/>
<text x="511.6" y="653.8" class="lb">I</text>
<rect x="478.4" y="665.3" width="27.2" height="16.4" fill="#e3f9d3"/>
<text x="511.2" y="677.4" class="lb">II</text>
<rect x="478.4" y="689.3" width="27.2" height="16.4" fill="#f9dfc0"/>
<text x="510.6" y="701.2" class="lb">III</text>
<rect x="478.4" y="710.8" width="27.2" height="16.4" fill="url(#lIV)"/>
<text x="510.6" y="723.2" class="lb">IV</text>
<rect x="478.4" y="734" width="27.2" height="16.4" fill="url(#lV)"/>
<text x="511.6" y="746" class="lb">V</text>
</svg>
</body></html>
